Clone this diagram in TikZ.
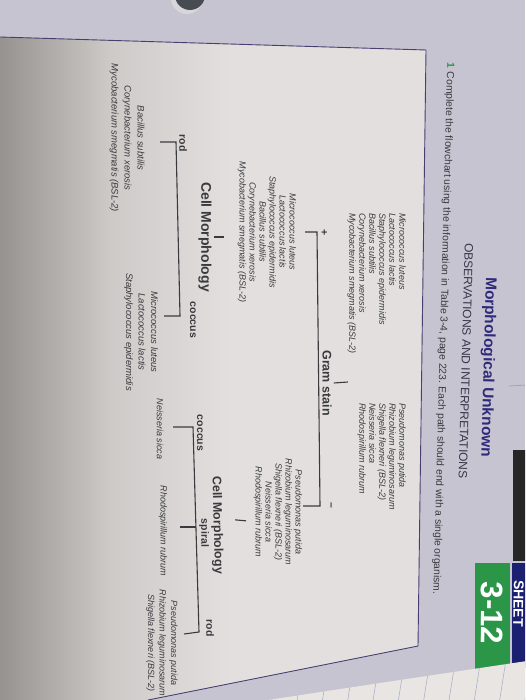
\documentclass[tikz,border=0pt]{standalone}
\usepackage{fontspec}
\setmainfont{Liberation Sans}
\usetikzlibrary{positioning,calc}

\definecolor{pagelav}{RGB}{198,196,208}
\definecolor{boxbg}{RGB}{226,223,222}
\definecolor{boxmid}{RGB}{206,202,200}
\definecolor{boxdark}{RGB}{150,146,144}
\definecolor{frameblue}{RGB}{72,62,112}
\definecolor{titleblue}{RGB}{48,42,122}
\definecolor{inkgrey}{RGB}{58,58,62}
\definecolor{numgreen}{RGB}{44,150,72}
\definecolor{sheetnavy}{RGB}{28,32,112}
\definecolor{holedark}{RGB}{70,76,82}
\definecolor{holelight}{RGB}{215,215,218}
\definecolor{graphpaper}{RGB}{232,229,226}
\definecolor{gridblue}{RGB}{165,170,200}

\pgfdeclarehorizontalshading{boxshade}{100bp}{color(0bp)=(boxdark); color(25bp)=(boxdark); color(38bp)=(boxmid); color(52bp)=(boxbg); color(100bp)=(boxbg)}

\begin{document}
\begin{tikzpicture}[x=1pt,y=-1pt,
    link/.style={draw=inkgrey,line width=1.1pt},
    flowtext/.style={text=inkgrey,inner sep=0pt,rotate=-90},
    species/.style={flowtext,font=\fontsize{9}{10}\selectfont\itshape,align=center},
    test/.style={flowtext,font=\fontsize{13}{15}\selectfont\bfseries},
    branch/.style={flowtext,font=\fontsize{10.5}{12}\selectfont\bfseries},
    header/.style={anchor=west,rotate=-91.5,inner sep=0pt}
  ]
  \useasboundingbox (0,0) rectangle (525,700);
  \clip (0,0) rectangle (525,700);

  % page and frame
  \fill[pagelav] (0,0) rectangle (525,700);
  \shade[shading=boxshade] (0,37) -- (426,50) -- (418,646) -- (148,700) -- (0,700) -- cycle;
  \draw[frameblue,line width=0.9pt] (0,37) -- (426,50) -- (418,646) -- (148,700);

  % punched hole
  \fill[holelight] (187,-2) circle (16);
  \fill[holedark] (190,-5) circle (15);

  % sheet tab
  \fill[black!85] (513,450) rectangle (527,561);
  \fill[numgreen] (475,563) rectangle (510,670);
  \fill[sheetnavy] (512,563) rectangle (527,668);
  \node[font=\fontsize{31}{31}\selectfont\bfseries,text=white,rotate=-91] (sheetno) at (492,613) {3-12};
  \node[anchor=base west,font=\fontsize{14}{14}\selectfont\bfseries,text=white,rotate=-91,inner sep=0pt] (sheetword) at (514,580) {SHEET};
  \draw[gray!70,line width=0.8pt] (509,386) -- (527,385);

  % graph paper below
  \begin{scope}
    \clip (268,700) -- (380,683) -- (480,668) -- (527,661) -- (527,702) -- cycle;
    \fill[graphpaper] (260,640) rectangle (530,705);
    \draw[gridblue,line width=0.5pt,step=25,rotate around={-9:(400,690)}] (250,600) grid (560,760);
  \end{scope}

  % heading
  \node[header,font=\fontsize{15.5}{16}\selectfont\bfseries,text=titleblue] (title) at (490,277) {Morphological Unknown};
  \node[header,font=\fontsize{12}{14}\selectfont,text=inkgrey!80!titleblue] (observ) at (469,243) {OBSERVATIONS AND INTERPRETATIONS};
  \node[header,font=\fontsize{10.3}{12}\selectfont,text=inkgrey] (task) at (450,62) {{\color{numgreen}\bfseries 1}\hspace{4pt}Complete the flowchart using the information in Table 3-4, page 223. Each path should end with a single organism.};

  % Gram stain level
  \node[species,align=left,anchor=north west] (posall) at (406,213) {Micrococcus luteus\\Lactococcus lactis\\Staphylococcus epidermidis\\Bacillus subtilis\\Corynebacterium xerosis\\Mycobacterium smegmatis (BSL-2)};
  \node[species,align=left,anchor=north west] (negall) at (406,403) {Pseudomonas putida\\Rhizobium leguminosarum\\Shigella flexneri (BSL-2)\\Neisseria sicca\\Rhodospirillum rubrum};
  \node[test,font=\fontsize{12.5}{14}\selectfont\bfseries] (gram) at (327,383) {Gram stain};
  \draw[link] ($(gram.north)+(2,0)$) -- ++(14,-1);
  \coordinate (gpos) at (317,232);
  \coordinate (gneg) at (320,506);
  \draw[link] ($(gpos)+(-12,0)$) -- (gpos) -- (gneg) -- ++(-17,0);
  \node[branch] (plus) at (324,233) {+};
  \node[branch] (minus) at (330,505) {--};
  \node[species] (poslist) at (267,232) {Micrococcus luteus\\Lactococcus lactis\\Staphylococcus epidermidis\\Bacillus subtilis\\Corynebacterium xerosis\\Mycobacterium smegmatis (BSL-2)};
  \node[species] (neglist) at (278,512) {Pseudomonas putida\\Rhizobium leguminosarum\\Shigella flexneri (BSL-2)\\Neisseria sicca\\Rhodospirillum rubrum};

  % cell morphology, gram positive
  \node[test,font=\fontsize{14}{16}\selectfont\bfseries] (cellL) at (205,237) {Cell Morphology};
  \draw[link] ($(cellL.north)+(2,0)$) -- ++(10,0);
  \coordinate (lrod) at (176,142);
  \coordinate (lcoc) at (180,316);
  \draw[link] ($(lrod)+(-16,0)$) -- (lrod) -- (lcoc) -- ++(-16,0);
  \node[branch] (rodL) at (183,143) {rod};
  \node[branch] (cocL) at (193,320) {coccus};
  \node[species,font=\fontsize{9.5}{13}\selectfont\itshape] (rodlistL) at (127,138) {Bacillus subtilis\\Corynebacterium xerosis\\Mycobacterium smegmatis (BSL-2)};
  \node[species,font=\fontsize{9.5}{12.5}\selectfont\itshape] (coclistL) at (141,332) {Micrococcus luteus\\Lactococcus lactis\\Staphylococcus epidermidis};

  % cell morphology, gram negative
  \node[test,font=\fontsize{12.5}{14}\selectfont\bfseries,rotate=1.5] (cellR) at (217,525) {Cell Morphology};
  \draw[link] ($(cellR.north)+(12,-5)$) -- ++(11,1);
  \coordinate (rcoc) at (193,427);
  \coordinate (rspi) at (196,527);
  \coordinate (rrod) at (199,632);
  \draw[link] ($(rcoc)+(-20,0)$) -- (rcoc) -- (rrod) -- ++(-15,2);
  \draw[link] (rspi) -- ++(-16,0);
  \node[branch] (cocR) at (200,433) {coccus};
  \node[branch] (spiR) at (204,533) {spiral};
  \node[branch] (rodR) at (210,628) {rod};
  \node[species] (neisR) at (160,429) {Neisseria sicca};
  \node[species] (rhodR) at (163,531) {Rhodospirillum rubrum};
  \node[species,font=\fontsize{9}{11.5}\selectfont\itshape] (rodlistR) at (162,643) {Pseudomonas putida\\Rhizobium leguminosarum\\Shigella flexneri (BSL-2)};
\end{tikzpicture}
\end{document}
